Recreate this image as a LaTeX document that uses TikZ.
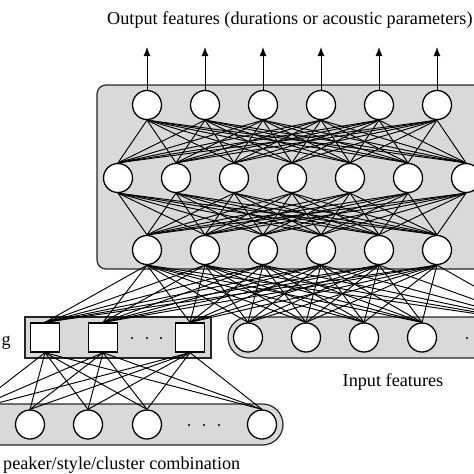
\documentclass[tikz,border=0pt]{standalone}
\usepackage{fontspec}
\setmainfont{Liberation Serif}
\usetikzlibrary{arrows.meta}

\tikzstyle{unit} = [circle, 
minimum size=29pt, 
inner sep=0pt, 
draw=black, 
line width=1.3pt, 
fill=white]
\tikzstyle{embed} = [rectangle, 
minimum size=29pt, 
inner sep=0pt, 
draw=black, 
line width=1.3pt, 
fill=white]
\tikzstyle{panel} = [draw=black!85, line width=1.2pt, fill=black!15]
\tikzstyle{link} = [line width=0.95pt]
\tikzstyle{arrow} = [line width=1pt,-{Latex[length=9pt,width=7pt]}]
\tikzstyle{label} = [font=\fontsize{18.2}{20}\selectfont, inner sep=0pt]

\begin{document}
\begin{tikzpicture}[x=1pt,y=-1pt]
\useasboundingbox (0,0) rectangle (474,474);

% grey panels
\draw [panel, rounded corners=9pt] (97,85) rectangle (520,269);
\draw [panel] (25,317) rectangle (211,358);
\draw [panel, rounded corners=20.5pt] (228,317) rectangle (600,358);
\draw [panel, rounded corners=20.5pt] (-100,404) rectangle (283,445);

% layers
\foreach \i in {1,...,6}
  \node (out\i) [unit] at ({147+58*(\i-1)},105) {};
\foreach \i in {1,...,7}
  \node (mid\i) [unit] at ({118+58*(\i-1)},178) {};
\foreach \i in {1,...,6}
  \node (hid\i) [unit] at ({147+58*(\i-1)},250) {};
\node (emb1) [embed] at (45,337.5) {};
\node (emb2) [embed] at (103,337.5) {};
\node (emb3) [embed] at (190,337.5) {};
\foreach \i in {1,...,4}
  \node (in\i) [unit] at ({248+58*(\i-1)},337.5) {};
\coordinate (in5) at (539,323);
\node (spk1) [unit] at (30,424.5) {};
\node (spk2) [unit] at (88,424.5) {};
\node (spk3) [unit] at (147,424.5) {};
\node (spk4) [unit] at (262,424.5) {};
\coordinate (spk0) at (-29,410);

% dots
\foreach \x in {132,147,161} \fill (\x,338) circle (1.1pt);
\foreach \x in {467,482,497} \fill (\x,338) circle (1.1pt);
\foreach \x in {189,204,219} \fill (\x,425) circle (1.1pt);

% connections
\foreach \i in {1,...,6}
  \foreach \j in {1,...,7}
    \draw [link] (out\i.south) -- (mid\j.north);
\foreach \j in {1,...,7}
  \foreach \i in {1,...,6}
    \draw [link] (mid\j.south) -- (hid\i.north);
\foreach \i in {1,...,6} {
  \foreach \k in {1,...,3}
    \draw [link] (hid\i.south) -- (emb\k.north);
  \foreach \k in {1,...,4}
    \draw [link] (hid\i.south) -- (in\k.north);
  \draw [link] (hid\i.south) -- (in5);
}
\foreach \k in {1,...,3} {
  \foreach \s in {1,...,4}
    \draw [link] (emb\k.south) -- (spk\s.north);
  \draw [link] (emb\k.south) -- (spk0);
}

% outputs
\foreach \i in {1,...,6} {
  \coordinate (o\i) at ({147+58*(\i-1)},47);
  \draw [arrow] (out\i.north) -- (o\i);
}

% labels
\node (outlbl) [label, anchor=base west] at (107,24) {Output features (durations or acoustic parameters)};
\node (inlbl) [label, anchor=base] at (393,386) {Input features};
\node (emblbl) [label, anchor=base east] at (11,345) {g};
\node (spklbl) [label, anchor=base west] at (3,469) {peaker/style/cluster combination};

\end{tikzpicture}
\end{document}
